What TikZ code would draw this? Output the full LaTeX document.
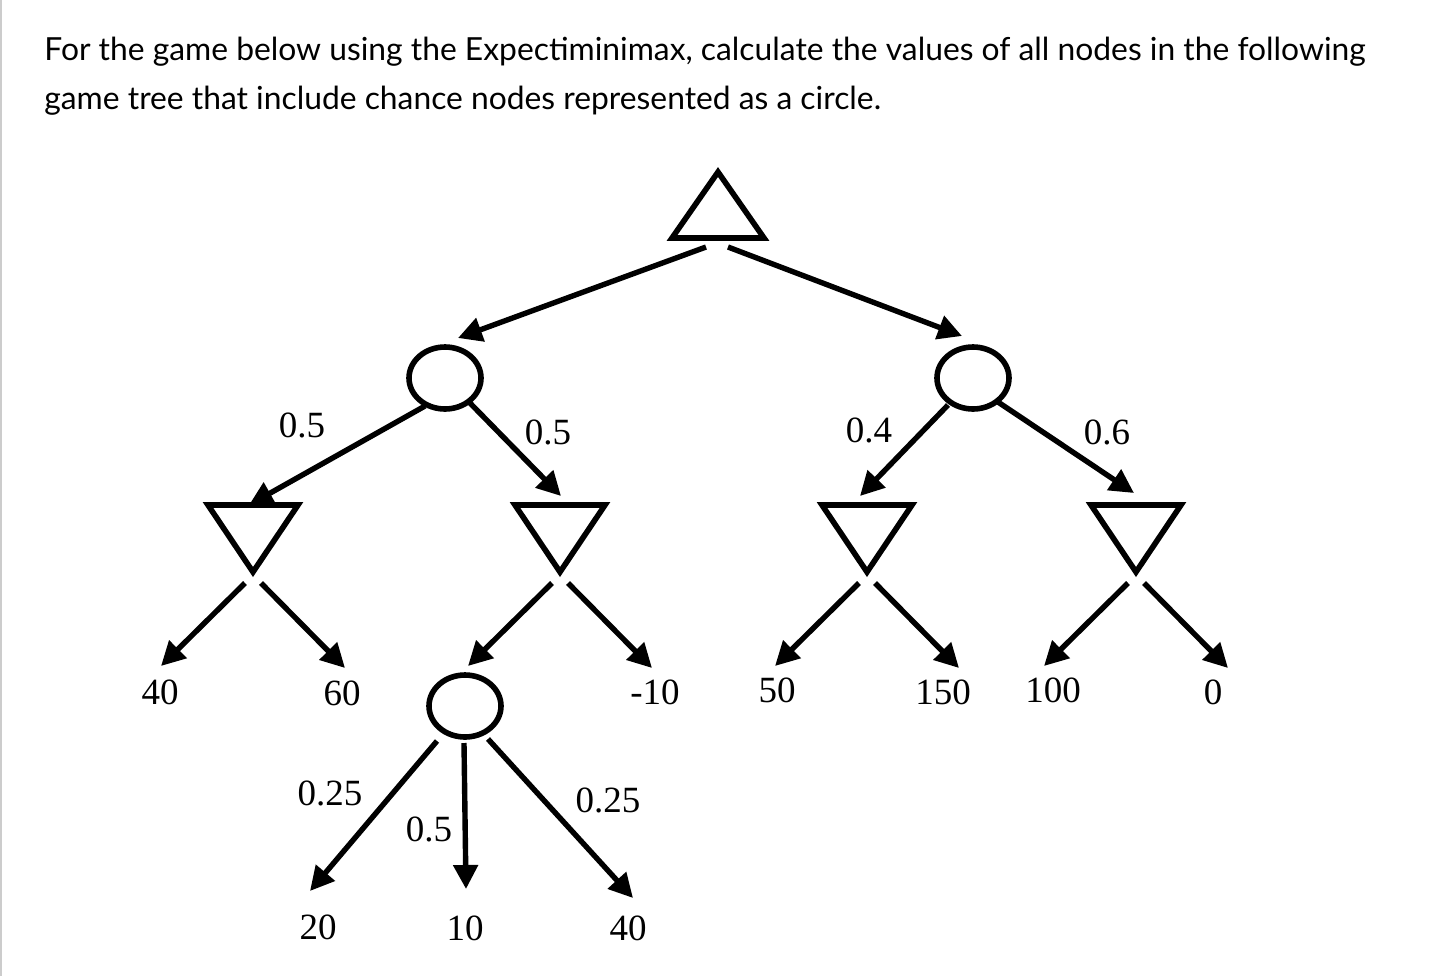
\documentclass[tikz,border=0pt]{standalone}
\usepackage{fontspec}
\setmainfont{Liberation Serif}
\newfontfamily\txtfont{Lato}
\usetikzlibrary{arrows.meta}
\begin{document}
\begin{tikzpicture}[x=0.5pt,y=-0.5pt,
  shp/.style={line width=2.8pt,line join=miter},
  arr/.style={line width=2.7pt,-{Triangle[length=12pt,width=12pt]}},
  lbl/.style={font=\fontsize{18.5}{18.5}\selectfont,inner sep=0pt},
  txt/.style={font=\txtfont\fontsize{15.9}{15.9}\selectfont,anchor=west,inner sep=0pt}]
\useasboundingbox (0,0) rectangle (1452,976);
\fill[white] (0,0) rectangle (1452,976);
\draw[gray!40,line width=1pt] (1,0) -- (1,976);
\node[txt] (t1) at (44,52) {For the game below using the Expectiminimax, calculate the values of all nodes in the following};
\node[txt] (t2) at (44,101) {game tree that include chance nodes represented as a circle.};
% root
\draw[shp] (718,172) -- (764,238) -- (672,238) -- cycle;
\coordinate (r) at (718,240);
% chance
\draw[shp] (445,378) ellipse (36 and 31); \coordinate (c1) at (445,378);
\draw[shp] (973,378) ellipse (36 and 31); \coordinate (c2) at (973,378);
\draw[shp] (465,706) ellipse (36 and 31); \coordinate (c3) at (465,706);
% min triangles
\foreach \n/\x in {m1/253,m2/560,m3/867,m4/1136}{
  \draw[shp] (\x-45,505) -- (\x+45,505) -- (\x,572) -- cycle;
  \coordinate (\n) at (\x,575);
}
\draw[arr] (706,247) -- (458,338);
\draw[arr] (728,247) -- (962,336);
\draw[arr] (425,406) -- (249,505);
\draw[arr] (469,402) -- (561,496);
\draw[arr] (948,405) -- (860,496);
\draw[arr] (998,402) -- (1134,493);
\foreach \x in {253,560,867,1136}{
  \draw[arr] (\x-8,583) -- (\x-92,666);
  \draw[arr] (\x+8,583) -- (\x+92,668);
}
\draw[arr] (437,741) -- (310,891);
\draw[arr] (464,743) -- (466,889);
\draw[arr] (488,739) -- (633,898);
% leaf labels
\node[lbl] (l1) at (160,692) {40};
\node[lbl] (l2) at (342,693) {60};
\node[lbl] (l3) at (655,692) {-10};
\node[lbl] (l4) at (777,690) {50};
\node[lbl] (l5) at (943,692) {150};
\node[lbl] (l6) at (1053,690) {100};
\node[lbl] (l7) at (1213,692) {0};
\node[lbl] (l8) at (318,927) {20};
\node[lbl] (l9) at (465,928) {10};
\node[lbl] (l10) at (628,928) {40};
% probabilities
\node[lbl] (p1) at (302,425) {0.5};
\node[lbl] (p2) at (548,432) {0.5};
\node[lbl] (p3) at (869,430) {0.4};
\node[lbl] (p4) at (1107,432) {0.6};
\node[lbl] (p5) at (330,793) {0.25};
\node[lbl] (p6) at (429,829) {0.5};
\node[lbl] (p7) at (608,800) {0.25};
\end{tikzpicture}
\end{document}
